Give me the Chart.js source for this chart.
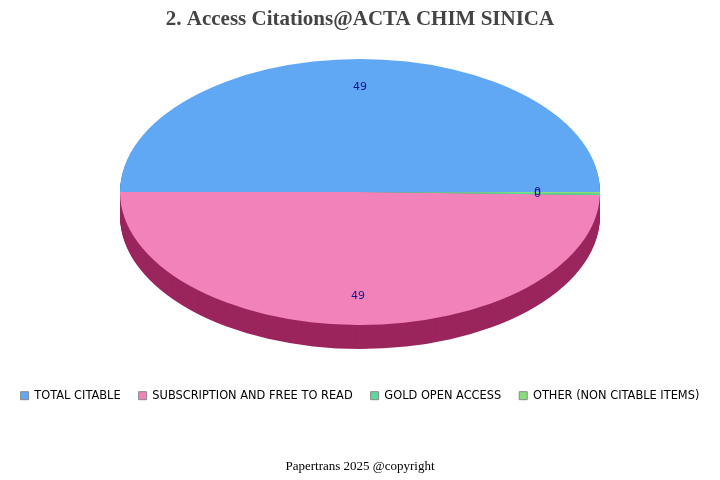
<!DOCTYPE html>
<html>
<head>
<meta charset="utf-8">
<script src="https://cdn.jsdelivr.net/npm/chart.js@4"></script>
<style>
  html, body { margin: 0; padding: 0; background: #fff; }
  #wrap { width: 720px; height: 480px; }
</style>
</head>
<body>
<div id="wrap"><canvas id="myChart" width="720" height="480"></canvas></div>
<script>
// datos
const categorias = ['TOTAL CITABLE', 'SUBSCRIPTION AND FREE TO READ', 'GOLD OPEN ACCESS', 'OTHER (NON CITABLE ITEMS)'];
const valores = [49, 48.65, 0.18, 0.18];
const colores = ['#60a8f4', '#f282ba', '#5fd8a0', '#86e07a'];
const coloresLado = ['#2f6fb5', '#9b255d', '#2e9a68', '#4ea044'];

const titulo = '2. Access Citations@ACTA CHIM SINICA';
const pie = 'Papertrans 2025 @copyright';

// elipse "3d"
const CX = 360, CY = 192, RX = 240, RY = 133, PROF = 24;

function matriz(meta, dy) {
    const el = meta.data[0];
    const R = el.outerRadius;
    return new DOMMatrix()
        .translate(CX, CY + dy)
        .scale(-RX / R, RY / R)
        .translate(-el.x, -el.y);
}

const pie3d = {
    id: 'pie3d',
    beforeDatasetsDraw(chart) {
        const ctx = chart.ctx;
        const meta = chart.getDatasetMeta(0);
        // lados
        for (let d = PROF; d >= 1; d--) {
            ctx.save();
            ctx.setTransform(matriz(meta, d));
            meta.data.forEach((el, i) => {
                if (el.endAngle - el.startAngle <= 0) return;
                ctx.beginPath();
                ctx.moveTo(el.x, el.y);
                ctx.arc(el.x, el.y, el.outerRadius, el.startAngle, el.endAngle);
                ctx.closePath();
                ctx.fillStyle = coloresLado[i];
                ctx.fill();
            });
            ctx.restore();
        }
        ctx.save();
        ctx.setTransform(matriz(meta, 0));
    },
    afterDatasetsDraw(chart) {
        const ctx = chart.ctx;
        ctx.restore();
        const meta = chart.getDatasetMeta(0);
        const m = matriz(meta, 0);
        ctx.save();
        ctx.font = '11px "DejaVu Sans"';
        ctx.fillStyle = '#16168a';
        ctx.textAlign = 'center';
        ctx.textBaseline = 'middle';
        meta.data.forEach((el, i) => {
            const a = (el.startAngle + el.endAngle) / 2;
            const r = el.outerRadius;
            const p = m.transformPoint(new DOMPoint(el.x + 0.74 * r * Math.cos(a), el.y + 0.785 * r * Math.sin(a)));
            ctx.fillText(String(Math.round(valores[i])), p.x, p.y);
        });
        ctx.restore();
    }
};

const ctx = document.getElementById('myChart').getContext('2d');
const myChart = new Chart(ctx, {
    type: 'pie',
    data: {
        labels: categorias,
        datasets: [{
            data: valores,
            backgroundColor: colores,
            borderWidth: 0,
            hoverOffset: 0,
            clip: false
        }]
    },
    options: {
        responsive: false,
        animation: false,
        events: [],
        rotation: -90,
        layout: { padding: 0 },
        plugins: {
            tooltip: { enabled: false },
            title: {
                display: true,
                text: titulo,
                color: '#444444',
                font: { family: '"Liberation Serif", "Times New Roman", serif', size: 21, weight: 'bold' },
                padding: { top: 7, bottom: 10 }
            },
            subtitle: {
                display: true,
                position: 'bottom',
                text: pie,
                color: '#000000',
                font: { family: '"Liberation Serif", "Times New Roman", serif', size: 13, weight: 'normal' },
                padding: { top: 47, bottom: 6 }
            },
            legend: {
                position: 'bottom',
                labels: {
                    boxWidth: 8,
                    boxHeight: 8,
                    padding: 18,
                    color: '#000000',
                    font: { family: '"DejaVu Sans"', size: 11.4 },
                    generateLabels(chart) {
                        return categorias.map((c, i) => ({
                            text: c,
                            fillStyle: colores[i],
                            strokeStyle: '#888888',
                            lineWidth: 1,
                            hidden: false,
                            index: i
                        }));
                    }
                }
            }
        }
    },
    plugins: [pie3d]
});
</script>
</body>
</html>
